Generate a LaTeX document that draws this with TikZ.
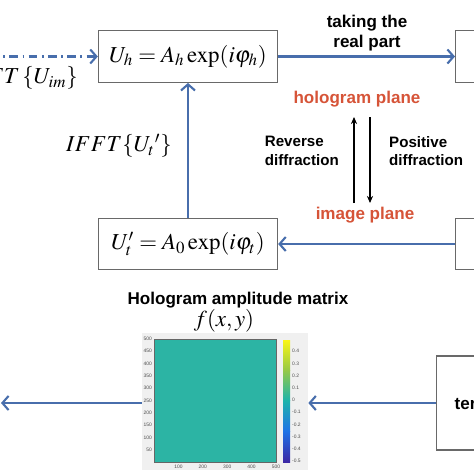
\documentclass[tikz,border=0pt]{standalone}
\usepackage{mathptmx}
\usepackage[no-math]{fontspec}
\setmainfont{Liberation Sans}
\usepackage{tikz}
\usetikzlibrary{arrows.meta,positioning,calc}

\definecolor{flowblue}{RGB}{72,110,172}
\definecolor{planered}{RGB}{214,84,56}
\definecolor{boxgray}{RGB}{105,105,105}
\definecolor{parteal}{RGB}{44,180,164}
\definecolor{parA}{RGB}{60,40,165}
\definecolor{parB}{RGB}{30,115,230}
\definecolor{parC}{RGB}{30,180,170}
\definecolor{parD}{RGB}{150,200,70}
\definecolor{parE}{RGB}{250,245,20}

\tikzset{
  eqbox/.style={draw=boxgray, line width=0.8pt, minimum width=3.58cm, minimum height=1.03cm, font=\fontsize{13}{15}\selectfont},
  flow/.style={draw=flowblue, line width=1.2pt, -{Straight Barb[length=3.5pt,width=8pt]}},
  difarrow/.style={black, line width=0.8pt, -{Stealth[length=4pt,width=3.5pt]}},
  lbl/.style={font=\fontsize{9.7}{11.5}\selectfont\bfseries, align=center},
  diflbl/.style={font=\fontsize{8.6}{10.6}\selectfont\bfseries, align=left},
  planelbl/.style={font=\fontsize{9.7}{11.5}\selectfont\bfseries, text=planered},
  ticklbl/.style={font=\fontsize{2.8}{3}\selectfont, text=black!70, inner sep=0.5pt}
}

\begin{document}
\begin{tikzpicture}[x=0.02cm, y=-0.02cm] % one unit is one pixel of the slide
    \useasboundingbox (0,0) rectangle (474,474);

    % Boxes of the iteration
    \node[eqbox] (uh) at (188,56.5) {$U_{h} = A_{h}\exp(i\varphi_{h})$};
    \node[eqbox] (ut) at (188,244) {$U'_{t} = A_{0}\exp(i\varphi_{t})$};
    \node[eqbox, minimum width=1.2cm, anchor=west] (realbox) at (455,56.5) {};
    \node[eqbox, minimum width=1.2cm, anchor=west] (fwdbox) at (455,244) {};
    \node[draw=boxgray, line width=0.8pt, anchor=west, minimum height=1.88cm,
          inner xsep=0.36cm, font=\fontsize{9.7}{11.5}\selectfont\bfseries] (term) at (436,403) {termination};

    % Input from the previous step
    \coordinate (inleft) at (-10,56.5);
    \draw[flow, dash pattern=on 5pt off 2.5pt on 1pt off 2.5pt] (inleft) -- (uh);
    \node[anchor=east, font=\fontsize{13}{15}\selectfont] (ifftim) at (84,78) {$IFFT\,\{U_{im}\}$};

    % Main loop
    \draw[flow] (uh) -- (realbox);
    \node[lbl] (takereal) at (367,33) {taking the\\real part};
    \draw[flow] (fwdbox) -- (ut);
    \draw[flow] (ut) -- (uh);
    \node[anchor=east, font=\fontsize{13}{15}\selectfont] (ifftut) at (178,146) {$IFFT\{U_{t}{}'\}$};

    % Planes and diffraction
    \node[planelbl] (holoplane) at (357,99) {hologram plane};
    \node[planelbl] (imgplane) at (365,215) {image plane};
    \coordinate (revbot) at (354,203);
    \coordinate (revtop) at (354,117);
    \coordinate (postop) at (370,117);
    \coordinate (posbot) at (370,203);
    \draw[difarrow] (revbot) -- (revtop);
    \draw[difarrow] (postop) -- (posbot);
    \node[diflbl, anchor=east] (revlbl) at (345,151) {Reverse\\diffraction};
    \node[diflbl, anchor=west] (poslbl) at (383,151) {Positive\\diffraction};

    % Hologram amplitude matrix
    \node[lbl] (maptitle) at (238,300) {Hologram amplitude matrix};
    \node[font=\fontsize{13}{15}\selectfont] (fxy) at (224,321) {$f(x,y)$};
    \node[fill=black!6, inner sep=0, minimum width=3.32cm, minimum height=2.74cm] (holofig) at (225,401.5) {};
    \fill[parteal] (154,339) rectangle (276,462);
    \draw[black!60, line width=0.2pt] (154,339) rectangle (276,462);
    \shade[bottom color=parA, top color=parB] (283,462) rectangle (290,431);
    \shade[bottom color=parB, top color=parC] (283,431.2) rectangle (290,400);
    \shade[bottom color=parC, top color=parD] (283,400.2) rectangle (290,370);
    \shade[bottom color=parD, top color=parE] (283,370.2) rectangle (290,340);
    \foreach \v in {500,450,...,50}
        \node[ticklbl, anchor=east] at (153,{462-\v*0.246}) {\v};
    \foreach \v in {100,200,...,500}
        \node[ticklbl] at ({154+\v*0.244},467) {\v};
    \foreach \v in {0.4,0.3,0.2,0.1,0,-0.1,-0.2,-0.3,-0.4,-0.5}
        \node[ticklbl, anchor=west] at (291,{400-\v*122}) {\v};

    % Output arrows
    \coordinate (outleft) at (1,403);
    \draw[flow] (term.west) -- (term.west -| holofig.east);
    \draw[flow] (term.west -| holofig.west) -- (outleft);
\end{tikzpicture}
\end{document}
